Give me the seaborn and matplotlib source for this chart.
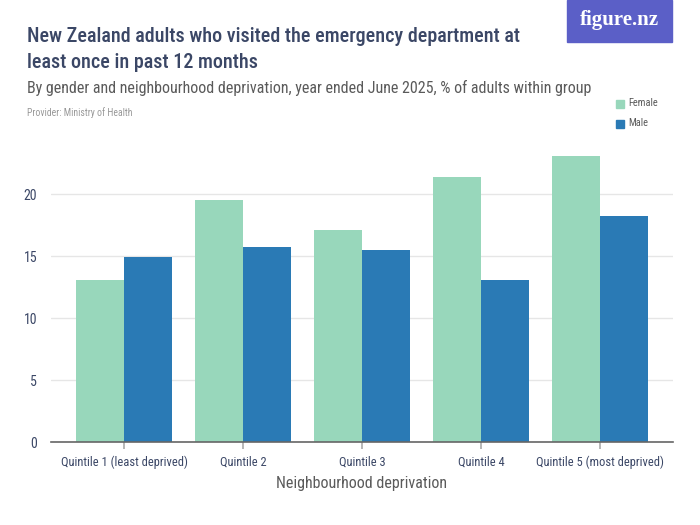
import pandas as pd
import matplotlib
matplotlib.use('Agg')
import matplotlib.pyplot as plt
import seaborn as sns
from matplotlib.patches import Rectangle

# Data
quintiles = ['Quintile 1 (least deprived)', 'Quintile 2', 'Quintile 3',
             'Quintile 4', 'Quintile 5 (most deprived)']
female = [13.1, 19.5, 17.1, 21.4, 23.1]
male = [14.9, 15.7, 15.5, 13.1, 18.2]
genders = ['Female', 'Male']
yticks = [0, 5, 10, 15, 20]

df = pd.DataFrame({
    'quintile': quintiles * 2,
    'gender': ['Female'] * len(female) + ['Male'] * len(male),
    'value': female + male,
})

sns.set_style('white')
plt.rcParams['font.family'] = ['Roboto Condensed', 'DejaVu Sans']

TITLE_C = '#3b4766'
GREY = '#5a5a5a'
palette = {'Female': '#98d7bb', 'Male': '#2a7ab5'}

fig = plt.figure(figsize=(7, 5.25), dpi=100)
ax = fig.add_axes([51 / 700, 1 - 442 / 525, 622 / 700, 310 / 525])

sns.barplot(data=df, x='quintile', y='value', hue='gender', hue_order=genders,
            palette=palette, width=0.8, saturation=1, linewidth=0, ax=ax, legend=False)

ax.set_xlim(-0.613, 4.613)
ax.set_ylim(0, 25)
ax.set_yticks(yticks)
ax.yaxis.grid(True, color='#e6e6e6', linewidth=1)
ax.set_axisbelow(True)
for s in ['top', 'right', 'left']:
    ax.spines[s].set_visible(False)
ax.spines['bottom'].set_color('#666666')
ax.spines['bottom'].set_linewidth(1.2)
ax.tick_params(axis='y', length=0, labelsize=10, labelcolor=TITLE_C, pad=10)
ax.tick_params(axis='x', length=5, width=1.2, color='#aaaaaa', labelsize=9,
               labelcolor=TITLE_C, pad=5, bottom=True)
ax.set_xlabel('Neighbourhood deprivation', fontsize=11.5, color=GREY, labelpad=5)
ax.set_ylabel('')

# Header texts
fig.text(27 / 700, 1 - 36 / 525, 'New Zealand adults who visited the emergency department at',
         fontsize=14.5, color=TITLE_C, fontweight='medium', va='center', ha='left')
fig.text(27 / 700, 1 - 62 / 525, 'least once in past 12 months',
         fontsize=14.5, color=TITLE_C, fontweight='medium', va='center', ha='left')
fig.text(27 / 700, 1 - 88 / 525,
         'By gender and neighbourhood deprivation, year ended June 2025, % of adults within group',
         fontsize=11.5, color=GREY, va='center', ha='left')
fig.text(27 / 700, 1 - 113 / 525, 'Provider: Ministry of Health',
         fontsize=7, color='#999999', va='center', ha='left')

# Logo
fig.patches.append(Rectangle((567 / 700, 1 - 42 / 525), 105 / 700, 42 / 525,
                             transform=fig.transFigure, color='#5b5fc7', zorder=0))
fig.text(619 / 700, 1 - 20 / 525, 'figure.nz', fontsize=15, color='white',
         fontweight='bold', ha='center', va='center', family=['Liberation Serif', 'DejaVu Serif'])

# Legend
for i, g in enumerate(genders):
    y = 1 - (104 + 20 * i) / 525
    fig.patches.append(Rectangle((616 / 700, y - 4 / 525), 8 / 700, 8 / 525,
                                 transform=fig.transFigure, color=palette[g]))
    fig.text(628 / 700, y + 1 / 525, g, fontsize=7.5, color=GREY, va='center', ha='left')

fig.savefig('out.png', dpi=100)
